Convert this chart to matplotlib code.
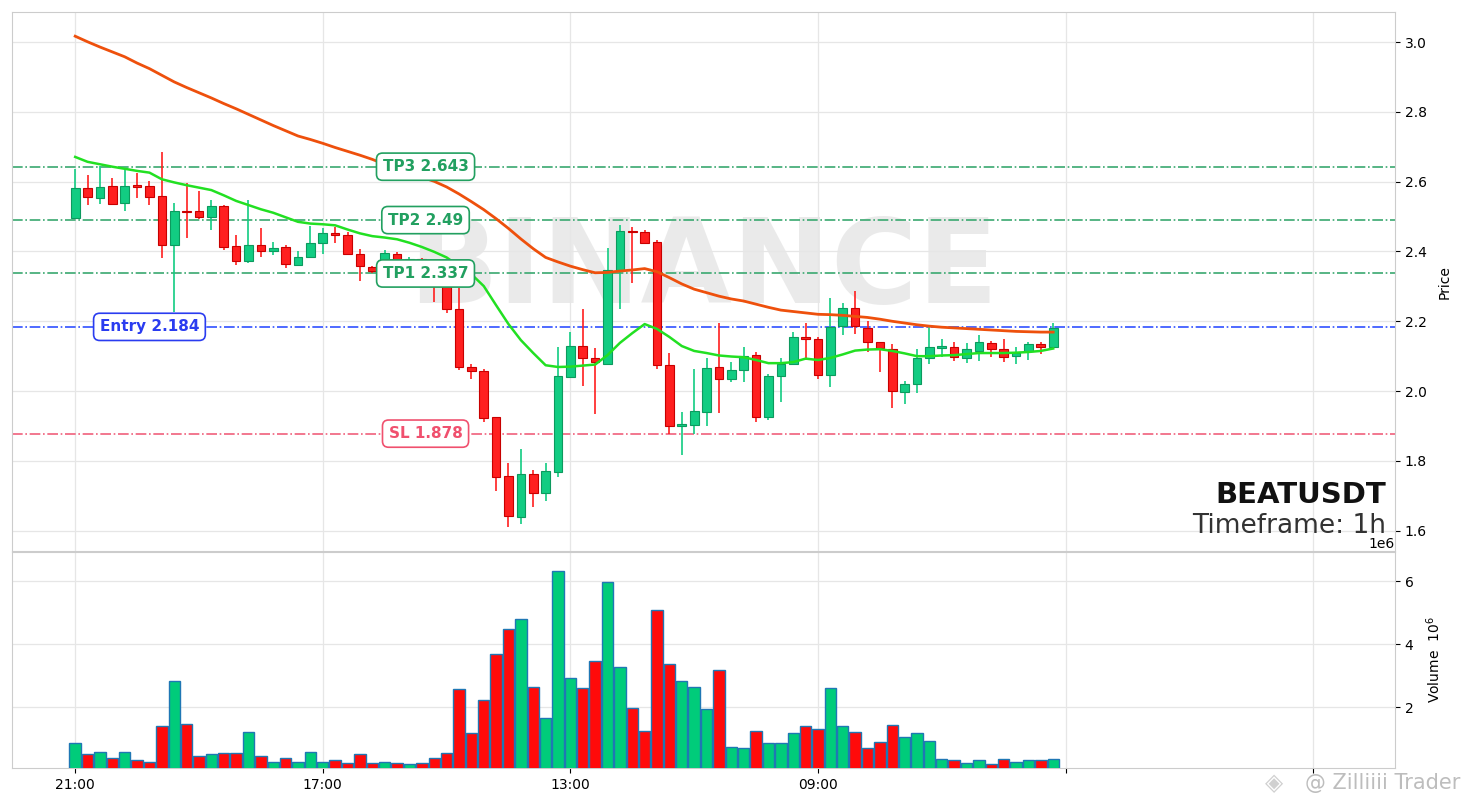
import matplotlib
matplotlib.use("Agg")
import matplotlib.pyplot as plt
import numpy as np

# hourly candles, oldest first
opens = [
    2.497, 2.581, 2.552, 2.587, 2.538, 2.590, 2.587, 2.559, 2.419, 2.516,
    2.516, 2.499, 2.530, 2.415, 2.373, 2.420, 2.402, 2.412, 2.361, 2.385,
    2.423, 2.452, 2.447, 2.393, 2.356, 2.372, 2.393, 2.362, 2.378, 2.330,
    2.305, 2.234, 2.068, 2.057, 1.925, 1.756, 1.640, 1.762, 1.707, 1.767,
    2.041, 2.129, 2.096, 2.079, 2.347, 2.459, 2.457, 2.428, 2.075, 1.901,
    1.903, 1.941, 2.068, 2.035, 2.060, 2.102, 1.926, 2.044, 2.077, 2.154,
    2.148, 2.046, 2.187, 2.237, 2.180, 2.140, 2.120, 1.996, 2.019, 2.094,
    2.124, 2.125, 2.094, 2.116, 2.139, 2.120, 2.101, 2.115, 2.134, 2.127,
]
highs = [
    2.635, 2.619, 2.645, 2.612, 2.635, 2.624, 2.602, 2.684, 2.538, 2.597,
    2.574, 2.547, 2.532, 2.446, 2.547, 2.466, 2.428, 2.420, 2.402, 2.474,
    2.466, 2.469, 2.455, 2.407, 2.358, 2.404, 2.398, 2.385, 2.382, 2.345,
    2.320, 2.294, 2.079, 2.062, 1.927, 1.795, 1.833, 1.774, 1.793, 2.127,
    2.170, 2.234, 2.122, 2.409, 2.476, 2.469, 2.463, 2.433, 2.110, 1.941,
    2.062, 2.094, 2.194, 2.084, 2.127, 2.113, 2.048, 2.094, 2.168, 2.196,
    2.156, 2.268, 2.253, 2.287, 2.201, 2.142, 2.135, 2.029, 2.120, 2.186,
    2.148, 2.141, 2.137, 2.160, 2.144, 2.148, 2.125, 2.141, 2.142, 2.196,
]
lows = [
    2.495, 2.533, 2.536, 2.535, 2.516, 2.552, 2.533, 2.380, 2.226, 2.438,
    2.493, 2.463, 2.404, 2.361, 2.366, 2.385, 2.390, 2.352, 2.358, 2.383,
    2.392, 2.423, 2.390, 2.315, 2.338, 2.365, 2.350, 2.345, 2.320, 2.256,
    2.223, 2.060, 2.034, 1.912, 1.714, 1.611, 1.619, 1.668, 1.685, 1.755,
    2.039, 2.014, 1.934, 2.079, 2.234, 2.309, 2.422, 2.062, 1.877, 1.817,
    1.877, 1.900, 1.938, 2.026, 2.027, 1.910, 1.917, 1.969, 2.075, 2.089,
    2.036, 2.011, 2.160, 2.163, 2.113, 2.055, 1.952, 1.963, 1.995, 2.077,
    2.098, 2.087, 2.081, 2.087, 2.098, 2.084, 2.079, 2.089, 2.106, 2.125,
]
closes = [
    2.581, 2.555, 2.584, 2.537, 2.587, 2.586, 2.557, 2.419, 2.516, 2.512,
    2.499, 2.530, 2.413, 2.373, 2.420, 2.402, 2.410, 2.363, 2.383, 2.423,
    2.452, 2.446, 2.392, 2.358, 2.344, 2.395, 2.362, 2.378, 2.330, 2.300,
    2.234, 2.070, 2.057, 1.924, 1.753, 1.643, 1.762, 1.707, 1.772, 2.043,
    2.129, 2.094, 2.082, 2.347, 2.458, 2.455, 2.425, 2.075, 1.901, 1.905,
    1.943, 2.065, 2.035, 2.060, 2.100, 1.926, 2.043, 2.079, 2.154, 2.149,
    2.046, 2.184, 2.237, 2.187, 2.140, 2.122, 2.000, 2.019, 2.094, 2.125,
    2.127, 2.097, 2.120, 2.140, 2.120, 2.098, 2.110, 2.135, 2.127, 2.181,
]
# volume in millions
volume_m = [
    0.85, 0.50, 0.59, 0.40, 0.59, 0.34, 0.27, 1.42, 2.82, 1.48,
    0.46, 0.50, 0.56, 0.56, 1.23, 0.46, 0.27, 0.40, 0.27, 0.59,
    0.27, 0.34, 0.23, 0.50, 0.24, 0.27, 0.24, 0.21, 0.24, 0.40,
    0.56, 2.57, 1.17, 2.22, 3.68, 4.48, 4.80, 2.63, 1.67, 6.32,
    2.92, 2.60, 3.46, 5.97, 3.27, 1.99, 1.26, 5.08, 3.39, 2.82,
    2.63, 1.93, 3.17, 0.75, 0.69, 1.26, 0.85, 0.85, 1.17, 1.42,
    1.32, 2.60, 1.42, 1.20, 0.72, 0.91, 1.45, 1.07, 1.17, 0.94,
    0.37, 0.34, 0.24, 0.31, 0.21, 0.37, 0.27, 0.31, 0.31, 0.37,
]
ma_fast = [
    2.671, 2.657, 2.650, 2.643, 2.637, 2.631, 2.626, 2.607, 2.598, 2.590,
    2.583, 2.576, 2.561, 2.545, 2.533, 2.521, 2.511, 2.498, 2.485, 2.480,
    2.478, 2.475, 2.463, 2.452, 2.444, 2.440, 2.435, 2.425, 2.413, 2.399,
    2.383, 2.358, 2.335, 2.301, 2.246, 2.192, 2.146, 2.109, 2.074, 2.069,
    2.070, 2.073, 2.076, 2.103, 2.138, 2.166, 2.192, 2.178, 2.155, 2.129,
    2.115, 2.109, 2.102, 2.099, 2.097, 2.089, 2.080, 2.080, 2.083, 2.093,
    2.089, 2.095, 2.105, 2.116, 2.119, 2.120, 2.115, 2.108, 2.100, 2.100,
    2.102, 2.103, 2.106, 2.109, 2.109, 2.109, 2.110, 2.112, 2.115, 2.122,
]
ma_slow = [
    3.017, 3.001, 2.986, 2.972, 2.958, 2.940, 2.924, 2.905, 2.886, 2.870,
    2.855, 2.840, 2.824, 2.809, 2.793, 2.777, 2.761, 2.746, 2.731, 2.721,
    2.710, 2.698, 2.687, 2.676, 2.664, 2.650, 2.637, 2.625, 2.613, 2.601,
    2.585, 2.565, 2.543, 2.520, 2.494, 2.466, 2.436, 2.408, 2.383, 2.370,
    2.358, 2.348, 2.339, 2.340, 2.344, 2.347, 2.351, 2.342, 2.325, 2.307,
    2.292, 2.282, 2.272, 2.264, 2.258, 2.249, 2.240, 2.232, 2.228, 2.224,
    2.220, 2.219, 2.217, 2.214, 2.211, 2.206, 2.200, 2.195, 2.190, 2.186,
    2.183, 2.181, 2.179, 2.177, 2.175, 2.173, 2.171, 2.170, 2.169, 2.169,
]

tick_pos = [0, 20, 40, 60, 80, 100]
tick_labels = ["21:00", "17:00", "13:00", "09:00", "", ""]

levels = [
    ("TP3", 2.643, "#22a060", 28.3),
    ("TP2", 2.49, "#22a060", 28.3),
    ("TP1", 2.337, "#22a060", 28.3),
    ("Entry", 2.184, "#2a3cf0", 6.0),
    ("SL", 1.878, "#f0506e", 28.3),
]
level_line_colors = {"TP3": "#3aa870", "TP2": "#3aa870", "TP1": "#3aa870",
                     "Entry": "#3050ff", "SL": "#f0607c"}

up_color = "#12cc82"
up_edge = "#0c9a5e"
dn_color = "#ff1f1f"
dn_edge = "#c80000"
grid_color = "#e6e6e6"
spine_color = "#cccccc"

o = np.array(opens)
h = np.array(highs)
l = np.array(lows)
c = np.array(closes)
vol = np.array(volume_m) * 1e6
idx = np.arange(len(o))
up = c >= o

fig = plt.figure(figsize=(14.68, 8.08), dpi=100)
ax = fig.add_axes([0.0082, 0.318, 0.942, 0.667])
axv = fig.add_axes([0.0082, 0.0495, 0.942, 0.2675], sharex=ax)

# watermark
ax.text(0.5, 0.52, "BINANCE", transform=ax.transAxes, fontsize=85,
        fontweight="bold", color="#e4e4e4", alpha=0.75,
        ha="center", va="center", zorder=0)

# candles
wick_cols = np.where(up, up_color, dn_color)
ax.vlines(idx, l, h, colors=wick_cols, linewidth=1.2, zorder=3)
body_bottom = np.minimum(o, c)
body_h = np.maximum(np.abs(c - o), 0.004)
ax.bar(idx, body_h, bottom=body_bottom, width=0.7,
       color=np.where(up, up_color, dn_color),
       edgecolor=np.where(up, up_edge, dn_edge), linewidth=0.8, zorder=4)

ax.plot(idx, ma_fast, color="#22e022", linewidth=1.8, zorder=5)
ax.plot(idx, ma_slow, color="#ee500c", linewidth=2.0, zorder=5)

for name, price, col, xpos in levels:
    ax.axhline(price, color=level_line_colors[name], linestyle="-.",
               linewidth=1.2, zorder=2)
    ax.text(xpos, price, f"{name} {price:g}", ha="center", va="center",
            fontsize=11, fontweight="bold", color=col, zorder=6,
            bbox=dict(boxstyle="round,pad=0.4", fc="white", ec=col, lw=1.2))

ax.text(0.994, 0.0885, "BEATUSDT", transform=ax.transAxes, ha="right",
        va="baseline", fontsize=21, fontweight="bold", color="#111111", zorder=7)
ax.text(0.994, 0.033, "Timeframe: 1h", transform=ax.transAxes, ha="right",
        va="baseline", fontsize=19, color="#333333", zorder=7)

# volume
axv.bar(idx, vol, width=0.92, color=np.where(up, "#00cc7a", "#ff0a0a"),
        edgecolor="#1f77b4", linewidth=1.0, zorder=3)

for a in (ax, axv):
    a.grid(True, color=grid_color, linewidth=0.9, zorder=0)
    a.set_axisbelow(True)
    a.yaxis.tick_right()
    a.yaxis.set_label_position("right")
    for sp in a.spines.values():
        sp.set_color(spine_color)
    a.tick_params(axis="y", length=3.5, labelsize=10)

ax.set_xlim(-5.1, 106.6)
ax.set_ylim(1.5415, 3.086)
ax.set_yticks(np.arange(1.6, 3.01, 0.2))
ax.set_yticklabels([f"{v:.1f}" for v in np.arange(1.6, 3.01, 0.2)])
ax.tick_params(axis="x", bottom=False, labelbottom=False)
ax.set_ylabel("Price", fontsize=10, labelpad=8)

axv.set_ylim(0.07e6, 6.94e6)
axv.set_yticks([2e6, 4e6, 6e6])
axv.set_xticks(tick_pos)
axv.set_xticklabels(tick_labels, fontsize=10)
axv.set_ylabel("Volume  $10^{6}$", fontsize=10, labelpad=8)

fig.text(0.862, 0.031, "\u25c8", fontsize=17, color="#d0d0d0",
         ha="left", va="center")
fig.text(0.995, 0.031, "@ Zilliiii Trader", fontsize=15, color="#bdbdbd",
         ha="right", va="center")

fig.savefig("out.png", dpi=100, facecolor="white")
